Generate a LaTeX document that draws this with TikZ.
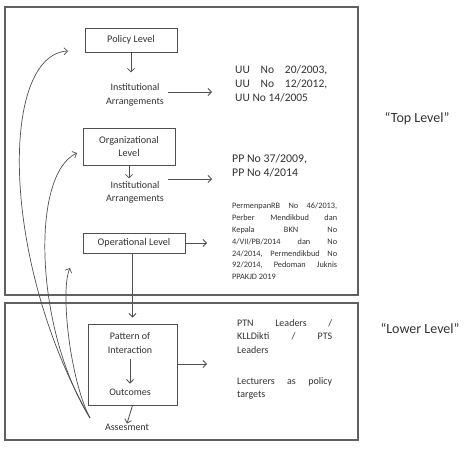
\documentclass[tikz,border=0pt]{standalone}
\usepackage{fontspec}
\setmainfont{Carlito}
\usetikzlibrary{arrows.meta}
\definecolor{txtgray}{HTML}{333333}
\definecolor{linegray}{HTML}{505050}
\definecolor{framegray}{HTML}{606060}
\begin{document}
\begin{tikzpicture}[x=1pt,y=-1pt,
  frame/.style={draw=framegray, line width=1.4pt, inner sep=0pt},
  box/.style={draw=linegray, line width=0.9pt, inner sep=0pt, text=txtgray, align=center, font=\fontsize{10.2}{13.5}\selectfont},
  lbl/.style={text=txtgray, align=center, inner sep=0pt, font=\fontsize{10}{13.5}\selectfont},
  arr/.style={draw=linegray, line width=0.8pt, -{Straight Barb[length=3.5pt,width=7pt]}},
  curv/.style={draw=linegray, line width=0.7pt, -{Straight Barb[length=3.5pt,width=7pt]}},
  ref/.style={text=txtgray, align=left, inner sep=0pt, anchor=north west},
  side/.style={text=txtgray, inner sep=0pt, font=\fontsize{14}{16}\selectfont}
]
\useasboundingbox (0,0) rectangle (474,449);
\fill[white] (0,0) rectangle (474,449);

% frames
\node[frame, minimum width=353pt, minimum height=288pt] (topframe) at (181.5,151) {};
\node[frame, minimum width=353pt, minimum height=137pt] (lowframe) at (181.5,371.5) {};

% top level
\node[box, minimum width=92pt, minimum height=24pt] (policy) at (131,40) {Policy Level};
\node[lbl] (ia1) at (135,95) {Institutional\\Arrangements};
\draw[arr] (policy.south) -- ++(0,20);
\coordinate (a1s) at (168,92);
\coordinate (a1e) at (212,92);
\draw[arr] (a1s) -- (a1e);
\node[ref, font=\fontsize{11.5}{14}\selectfont] (uu) at (235,65) {\hbox to 92pt{UU\hfill No\hfill 20/2003,}\\\hbox to 92pt{UU\hfill No\hfill 12/2012,}\\UU No 14/2005};

\node[box, minimum width=92pt, minimum height=37pt] (org) at (129,146.5) {Organizational\\Level};
\node[lbl] (ia2) at (135,192.5) {Institutional\\Arrangements};
\draw[arr] (org.south) -- ++(0,13);
\coordinate (a2s) at (168,179);
\coordinate (a2e) at (212,179);
\draw[arr] (a2s) -- (a2e);
\node[ref, font=\fontsize{11.8}{14}\selectfont] (pp) at (232,154) {PP No 37/2009,\\PP No 4/2014};

\node[box, minimum width=102pt, minimum height=20pt] (oper) at (134,243) {Operational Level};
\coordinate (a3e) at (207,243);
\draw[arr] (oper.east) -- (a3e);
\node[ref, font=\fontsize{8.3}{11.8}\selectfont] (perm) at (232,203) {\hbox to 105pt{PermenpanRB\hfill No\hfill 46/2013,}\\\hbox to 105pt{Perber\hfill Mendikbud\hfill dan}\\\hbox to 105pt{Kepala\hfill BKN\hfill No}\\\hbox to 105pt{4/VII/PB/2014\hfill dan\hfill No}\\\hbox to 105pt{24/2014,\hfill Permendikbud\hfill No}\\\hbox to 105pt{92/2014,\hfill Pedoman\hfill Juknis}\\PPAKJD 2019};

% lower level
\node[box, minimum width=89pt, minimum height=81pt] (pattbox) at (132.5,364.5) {};
\draw[arr, shorten >=6pt] (oper.south -| pattbox.north) -- (pattbox.north);
\node[lbl] (patt) at (130,343) {Pattern of\\Interaction};
\node[lbl] (outc) at (130,392) {Outcomes};
\draw[arr] ([yshift=-6pt]patt.south) -- ([yshift=5pt]outc.north);
\node[lbl] (asses) at (127,427) {Assesment};
\draw[arr] (pattbox.south) -- (asses.north);
\coordinate (a4e) at (207,364);
\draw[arr] (pattbox.east |- a4e) -- (a4e);
\node[ref, font=\fontsize{10}{13.5}\selectfont] (ptn) at (237,319) {\hbox to 95pt{PTN\hfill Leaders\hfill /}\\\hbox to 95pt{KLLDikti\hfill /\hfill PTS}\\Leaders};
\node[ref, font=\fontsize{10}{13.5}\selectfont] (lect) at (237,377) {\hbox to 95pt{Lecturers\hfill as\hfill policy}\\targets};

% side labels
\node[side] (toplbl) at (417,119) {“Top Level”};
\node[side] (lowlbl) at (420,328) {“Lower Level”};

% feedback curves
\coordinate (S) at (90,418);
\coordinate (e1) at (68,51);
\coordinate (e2) at (77,153);
\coordinate (e3) at (70,268);
\draw[curv] (S) .. controls (0,260) and (0,55) .. (e1);
\draw[curv] (S) .. controls (35,330) and (30,175) .. (e2);
\draw[curv] (S) .. controls (70,380) and (60,290) .. (e3);
\end{tikzpicture}
\end{document}
